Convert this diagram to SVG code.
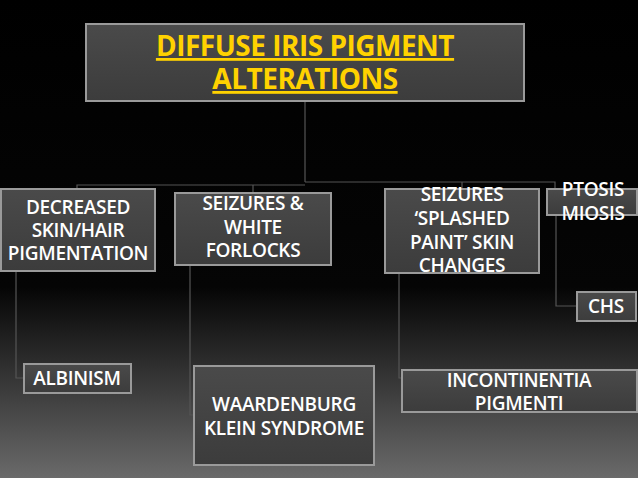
<svg xmlns="http://www.w3.org/2000/svg" width="638" height="478" viewBox="0 0 638 478">
<defs>
<linearGradient id="bg" x1="0" y1="0" x2="0" y2="1">
<stop offset="0" stop-color="#000"/><stop offset="0.6" stop-color="#050505"/><stop offset="1" stop-color="#6a6a6a"/>
</linearGradient>
<linearGradient id="bx" x1="0" y1="0" x2="0" y2="1">
<stop offset="0" stop-color="#4a4a4a"/><stop offset="1" stop-color="#3c3c3c"/>
</linearGradient>
</defs>
<style>
.b{fill:url(#bx);stroke:#9a9a9a;stroke-width:2}
.t{font-family:"Open Sans","Liberation Sans",sans-serif;font-weight:600;font-size:19px;fill:#fff;text-anchor:middle;letter-spacing:-0.3px}
.y{font-family:"Open Sans","Liberation Sans",sans-serif;font-weight:bold;font-size:28px;fill:#FFD200;text-anchor:middle;text-decoration:underline;letter-spacing:-0.5px}
.c{fill:none;stroke:#555;stroke-width:1.2}
</style>
<rect width="638" height="478" fill="url(#bg)"/>
<g id="connectors" class="c">
<path d="M305 101V182M77 189V185H305M253 193V185M305 182H555V188M462 182V188"/>
<path d="M16 271V378H24M190 265V415H194M399 273V378H402M556 215V306H577"/>
</g>
<g id="title"><rect class="b" x="86" y="24" width="438" height="77"/><text class="y" x="305" y="56">DIFFUSE IRIS PIGMENT</text><text class="y" x="305" y="89">ALTERATIONS</text></g>
<g id="decreased"><rect class="b" x="1" y="189" width="154" height="82"/><text class="t" x="78" y="214">DECREASED</text><text class="t" x="78" y="237">SKIN/HAIR</text><text class="t" x="78" y="260">PIGMENTATION</text></g>
<g id="seizures-white"><rect class="b" x="175" y="193" width="156" height="72"/><text class="t" x="253" y="210">SEIZURES &amp;</text><text class="t" x="253" y="234">WHITE</text><text class="t" x="253" y="257">FORLOCKS</text></g>
<g id="seizures-splashed"><rect class="b" x="385" y="189" width="154" height="84"/><text class="t" x="462" y="201">SEIZURES</text><text class="t" x="462" y="225">‘SPLASHED</text><text class="t" x="462" y="249">PAINT’ SKIN</text><text class="t" x="462" y="272">CHANGES</text></g>
<g id="ptosis"><rect class="b" x="547" y="189" width="90" height="26"/><text class="t" x="593" y="196">PTOSIS</text><text class="t" x="593" y="220">MIOSIS</text></g>
<g id="chs"><rect class="b" x="577" y="292" width="59" height="29"/><text class="t" x="606" y="313">CHS</text></g>
<g id="albinism"><rect class="b" x="24" y="364" width="107" height="29"/><text class="t" x="77" y="385">ALBINISM</text></g>
<g id="waardenburg"><rect class="b" x="194" y="366" width="180" height="99"/><text class="t" x="284" y="411">WAARDENBURG</text><text class="t" x="284" y="435">KLEIN SYNDROME</text></g>
<g id="incontinentia"><rect class="b" x="402" y="370" width="235" height="42"/><text class="t" x="519" y="387">INCONTINENTIA</text><text class="t" x="519" y="410">PIGMENTI</text></g>
</svg>
